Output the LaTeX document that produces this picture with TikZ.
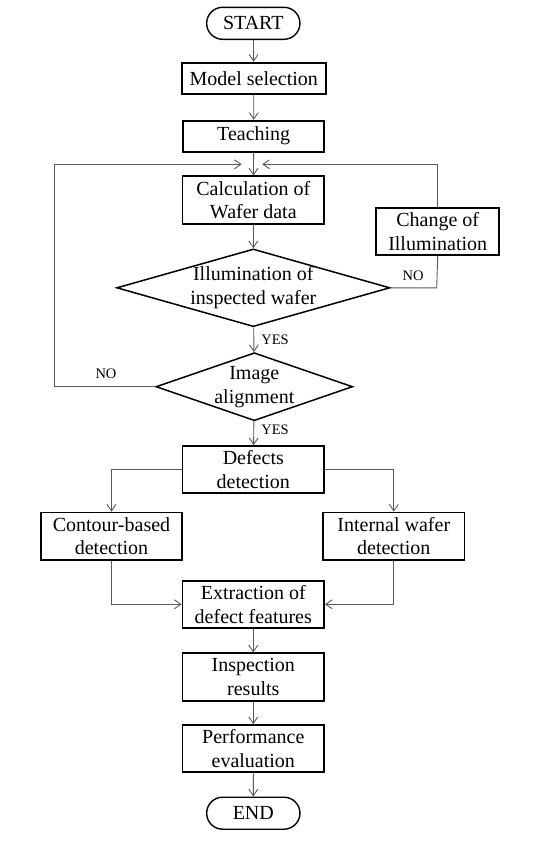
\documentclass[tikz,border=0pt]{standalone}
\usepackage{fontspec}
\setmainfont{Liberation Serif}
\usetikzlibrary{arrows.meta,shapes.geometric,shapes.misc}
\newcommand{\dtext}[2]{\makebox[0pt]{\begin{tabular}{@{}c@{}}#1\\#2\end{tabular}}}
\begin{document}
\begin{tikzpicture}[x=1pt,y=-1pt,
  mainfont/.style={font=\fontsize{20}{23.5}\selectfont},
  box/.style={draw=black,line width=1.8pt,align=center,inner sep=0pt,mainfont,minimum width=141.5pt,minimum height=47.3pt},
  term/.style={draw=black,line width=1.4pt,rounded rectangle,inner sep=0pt,minimum width=93.3pt,minimum height=32pt,mainfont},
  dec/.style={draw=black,line width=1.5pt,diamond,inner sep=0pt,mainfont},
  conn/.style={draw=black!65,line width=0.9pt,-{Straight Barb[length=6.5pt,width=9pt]}},
  plainline/.style={draw=black!65,line width=0.9pt},
  lab/.style={font=\fontsize{14.5}{16}\selectfont,inner sep=0pt}
]
\useasboundingbox (0,0) rectangle (538,847);

\node[term] (start) at (253.3,23.3) {START};
\node[box,minimum width=144pt,minimum height=31.3pt] (model) at (253.8,78.3) {Model selection};
\node[box,minimum width=141pt,minimum height=31pt] (teach) at (253.7,136.2) {Teaching};
\node[box] (calc) at (253.3,200) {Calculation of\\Wafer data};
\node[box,minimum width=123.3pt,minimum height=46.7pt] (change) at (437.7,231.7) {Change of\\Illumination};
\node[dec,minimum width=273.3pt,minimum height=77.7pt] (d1) at (253.3,287.8) {\dtext{Illumination of}{inspected wafer}};
\node[dec,minimum width=196.7pt,minimum height=68pt] (d2) at (254.3,386.7) {\dtext{Image}{alignment}};
\node[box] (defects) at (253.3,469.7) {Defects\\detection};
\node[box] (contour) at (111.5,536.2) {Contour-based\\detection};
\node[box] (internal) at (393.8,536.2) {Internal wafer\\detection};
\node[box] (extract) at (253.3,604.3) {Extraction of\\defect features};
\node[box] (insp) at (253.3,677) {Inspection\\results};
\node[box] (perf) at (253.3,748.7) {Performance\\evaluation};
\node[term] (end) at (253.3,813.2) {END};

\coordinate (fbL) at (241.7,164.3);
\coordinate (fbR) at (262.2,164.3);
\coordinate (leftx) at (54.3,386.7);
\coordinate (rightx) at (436.7,287.8);

\draw[conn] (start) -- (model);
\draw[conn] (model) -- (teach);
\draw[conn] (teach) -- (calc);
\draw[conn] (calc) -- (d1);
\draw[conn] (d1) -- (d2);
\draw[conn] (d2) -- (defects);
\draw[conn] (d2.west) -- (leftx) |- (fbL);
\draw[plainline] (d1.east) -- (rightx) -- (change.south);
\draw[conn] (change.north) |- (fbR);
\draw[conn] (defects.west) -| (contour.north);
\draw[conn] (defects.east) -| (internal.north);
\draw[conn] (contour.south) |- (extract.west);
\draw[conn] (internal.south) |- (extract.east);
\draw[conn] (extract) -- (insp);
\draw[conn] (insp) -- (perf);
\draw[conn] (perf) -- (end);

\node[lab] (yes1) at (275,339.3) {YES};
\node[lab] (yes2) at (275,430) {YES};
\node[lab] (no1) at (413,276) {NO};
\node[lab] (no2) at (106,373.3) {NO};
\end{tikzpicture}
\end{document}
